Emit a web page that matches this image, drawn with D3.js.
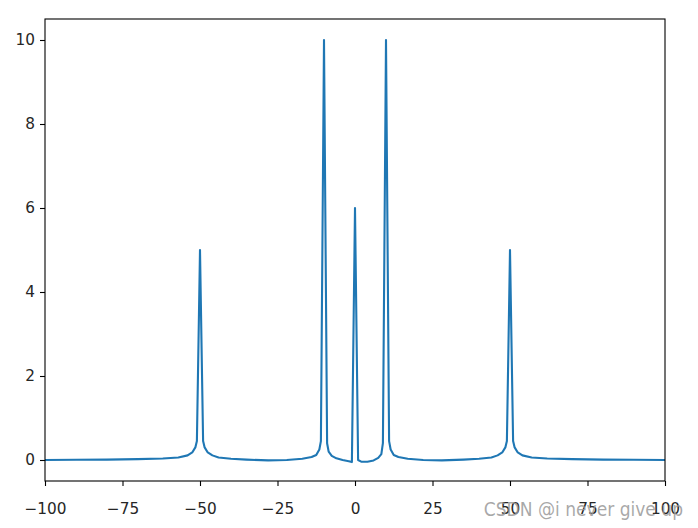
<!DOCTYPE html>
<html>
<head>
<meta charset="utf-8">
<script src="https://cdn.jsdelivr.net/npm/d3@7"></script>
<style>
  html, body { margin: 0; padding: 0; background: #fff; }
  svg text { font-family: "DejaVu Sans", sans-serif; }
</style>
</head>
<body>
<div id="chart"></div>
<script>
// frequency axis (Hz) and spectrum magnitude
var freqs = [-100, -90, -80, -70, -62, -57, -54, -52.5, -51.5, -51, -50, -49, -48.5, -47.5, -46, -44, -40, -35, -28, -22, -17, -14, -12.5, -11.5, -11,
    -10, -9, -8.5, -7.5, -6, -4, -2, -1, 0, 1, 2, 4, 6, 7.5, 8.5, 9,
    10, 11, 11.5, 12.5, 14, 17, 22, 28, 35, 40, 44, 46, 47.5, 48.5, 49,
    50, 51, 51.5, 52.5, 54, 57, 62, 70, 80, 90, 100];
var magnitude = [0.0, 0.005, 0.01, 0.02, 0.035, 0.06, 0.11, 0.18, 0.3, 0.45, 5.0, 0.45, 0.3, 0.18, 0.11, 0.06, 0.03, 0.01, -0.01, 0.0, 0.03, 0.07, 0.12, 0.25, 0.45,
    10.0, 0.4, 0.2, 0.1, 0.04, 0.0, -0.03, -0.05, 6.0, 0.0, -0.04, -0.04, -0.01, 0.05, 0.14, 0.4,
    10.0, 0.45, 0.25, 0.12, 0.07, 0.03, 0.0, -0.01, 0.01, 0.03, 0.06, 0.11, 0.18, 0.3, 0.45,
    5.0, 0.45, 0.3, 0.18, 0.11, 0.06, 0.035, 0.02, 0.01, 0.005, 0.0];
var xTicks = [-100, -75, -50, -25, 0, 25, 50, 75, 100];
var yTicks = [0, 2, 4, 6, 8, 10];

var width = 698, height = 528;
var margin = {top: 19, right: 33, bottom: 47, left: 45};

var svg = d3.select("#chart").append("svg")
    .attr("width", width)
    .attr("height", height);

var x = d3.scaleLinear()
    .domain([-100, 100])
    .range([margin.left, width - margin.right]);

var y = d3.scaleLinear()
    .domain([-0.5, 10.5])
    .range([height - margin.bottom, margin.top]);

var fmt = function (v) { return String(v).replace("-", "\u2212"); };

var xAxis = svg.append("g")
    .attr("transform", "translate(0," + (height - margin.bottom) + ")")
    .call(d3.axisBottom(x).tickValues(xTicks).tickFormat(fmt).tickSize(5).tickPadding(17));

var yAxis = svg.append("g")
    .attr("transform", "translate(" + margin.left + ",0)")
    .call(d3.axisLeft(y).tickValues(yTicks).tickFormat(fmt).tickSize(5).tickPadding(5));

[xAxis, yAxis].forEach(function (g) {
    g.select(".domain").remove();
    g.selectAll(".tick line").attr("stroke", "#000").attr("stroke-width", 1.1);
    g.selectAll(".tick text")
        .attr("fill", "#262626")
        .style("font-size", "15.3px")
        .style("font-family", "DejaVu Sans");
});

var line = d3.line()
    .x(function (d, i) { return x(freqs[i]); })
    .y(function (d) { return y(d); });

svg.append("path")
    .datum(magnitude)
    .attr("fill", "none")
    .attr("stroke", "#1f77b4")
    .attr("stroke-width", 2.1)
    .attr("stroke-linejoin", "round")
    .attr("d", line);

// axes frame
svg.append("rect")
    .attr("x", margin.left)
    .attr("y", margin.top)
    .attr("width", width - margin.left - margin.right)
    .attr("height", height - margin.top - margin.bottom)
    .attr("fill", "none")
    .attr("stroke", "#000")
    .attr("stroke-width", 1.1);

// watermark
svg.append("text")
    .attr("x", 683)
    .attr("y", 516)
    .attr("text-anchor", "end")
    .attr("fill", "#999")
    .attr("fill-opacity", 0.85)
    .style("font-family", "'Liberation Sans Narrow', 'DejaVu Sans Condensed', sans-serif")
    .style("font-size", "19px")
    .text("CSDN @i never give up");
</script>
</body>
</html>
